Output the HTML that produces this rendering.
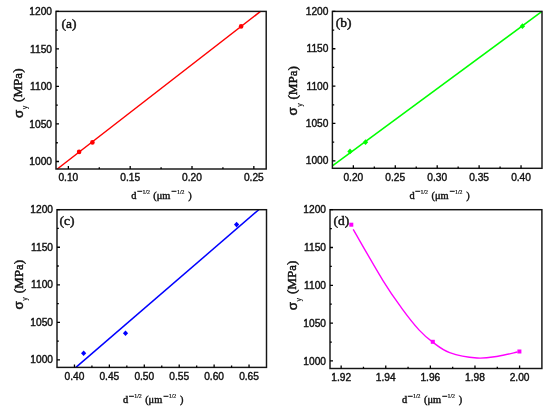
<!DOCTYPE html>
<html><head><meta charset="utf-8"><title>Hall-Petch plots</title>
<style>
html,body{margin:0;padding:0;background:#fff;}
body{width:550px;height:413px;overflow:hidden;}
svg{display:block;}
text{fill:#111;}
.tk{font-family:"Liberation Sans",Arial,sans-serif;font-size:10.2px;stroke:#111;stroke-width:0.4px;}
.pl{font-family:"Liberation Serif","Times New Roman",serif;font-size:13.5px;stroke:#111;stroke-width:0.45px;}
.yl text{font-family:"Liberation Serif","Times New Roman",serif;font-size:12.0px;stroke:#111;stroke-width:0.45px;}
.yl .sg{font-family:"Liberation Sans",Arial,sans-serif;font-size:12.11px;}
.yl .sub{font-family:"Liberation Sans",Arial,sans-serif;font-size:6.5px;stroke-width:0.1px;}
.xl text{font-family:"Liberation Serif","Times New Roman",serif;font-size:9.6px;stroke:#111;stroke-width:0.4px;}
.xl .sp{font-size:5.4px;stroke-width:0.2px;}
.xl .mn{font-size:9.0px;}
</style></head>
<body><svg width="550" height="413" viewBox="0 0 550 413">
<rect width="550" height="413" fill="#fff"/>
<g>
<line x1="57.30" y1="169.00" x2="260.5" y2="11.40" stroke="#ff0000" stroke-width="1.5"/>
<circle cx="79.1" cy="151.9" r="2.3" fill="#ff0000"/>
<circle cx="92.4" cy="142.4" r="2.3" fill="#ff0000"/>
<circle cx="241.1" cy="26.4" r="2.3" fill="#ff0000"/>
<rect x="56.00" y="11.40" width="210.20" height="157.60" fill="none" stroke="#151515" stroke-width="1.45"/>
<path d="M56.00 161.50h3 M56.00 123.97h3 M56.00 86.45h3 M56.00 48.92h3 M56.00 11.40h3 M56.00 142.73h1.8 M56.00 105.21h1.8 M56.00 67.69h1.8 M56.00 30.16h1.8 M68.36 169.00v-3 M130.19 169.00v-3 M192.01 169.00v-3 M253.84 169.00v-3 M99.28 169.00v-1.8 M161.10 169.00v-1.8 M222.92 169.00v-1.8" stroke="#000" stroke-width="1.3" fill="none"/>
<text class="tk" x="52.00" y="165.10" text-anchor="end">1000</text>
<text class="tk" x="52.00" y="127.57" text-anchor="end">1050</text>
<text class="tk" x="52.00" y="90.05" text-anchor="end">1100</text>
<text class="tk" x="52.00" y="52.52" text-anchor="end">1150</text>
<text class="tk" x="52.00" y="15.00" text-anchor="end">1200</text>
<text class="tk" x="68.36" y="181.40" text-anchor="middle">0.10</text>
<text class="tk" x="130.19" y="181.40" text-anchor="middle">0.15</text>
<text class="tk" x="192.01" y="181.40" text-anchor="middle">0.20</text>
<text class="tk" x="253.84" y="181.40" text-anchor="middle">0.25</text>
<text class="pl" x="61.5" y="28.3">(a)</text>
<g class="yl" transform="translate(22.6 118.0) rotate(-90) scale(1.09 1)"><text class="sg" x="0" y="0">σ</text><text class="sub" x="8.04" y="4.7">y</text><text class="mp" x="14.79" y="-0.2">(MPa)</text></g>
<g class="xl" transform="translate(131.3 199.0) scale(1.08 1)"><text x="0" y="0">d</text><text class="mn" x="5.01" y="-4.6">−</text><text class="sp" x="10.36" y="-5.3">1/2</text><text x="20.41" y="0">(μm</text><text class="mn" x="36.86" y="-4.6">−</text><text class="sp" x="42.30" y="-5.3">1/2</text><text x="52.66" y="0">)</text></g>
</g>
<g>
<line x1="332.40" y1="165.8" x2="542.00" y2="11.40" stroke="#00ff00" stroke-width="1.5"/>
<path d="M350.0 148.5l2.7 2.9l-2.7 2.9l-2.7 -2.9z" fill="#00ff00"/>
<path d="M365.5 139.29999999999998l2.7 2.9l-2.7 2.9l-2.7 -2.9z" fill="#00ff00"/>
<path d="M522.4 23.3l2.7 2.9l-2.7 2.9l-2.7 -2.9z" fill="#00ff00"/>
<rect x="332.40" y="11.40" width="209.60" height="156.90" fill="none" stroke="#151515" stroke-width="1.45"/>
<path d="M332.40 160.83h3 M332.40 123.47h3 M332.40 86.11h3 M332.40 48.76h3 M332.40 11.40h3 M332.40 142.15h1.8 M332.40 104.79h1.8 M332.40 67.44h1.8 M332.40 30.08h1.8 M353.36 168.30v-3 M395.28 168.30v-3 M437.20 168.30v-3 M479.12 168.30v-3 M521.04 168.30v-3 M374.32 168.30v-1.8 M416.24 168.30v-1.8 M458.16 168.30v-1.8 M500.08 168.30v-1.8" stroke="#000" stroke-width="1.3" fill="none"/>
<text class="tk" x="328.40" y="164.43" text-anchor="end">1000</text>
<text class="tk" x="328.40" y="127.07" text-anchor="end">1050</text>
<text class="tk" x="328.40" y="89.71" text-anchor="end">1100</text>
<text class="tk" x="328.40" y="52.36" text-anchor="end">1150</text>
<text class="tk" x="328.40" y="15.00" text-anchor="end">1200</text>
<text class="tk" x="353.36" y="180.70" text-anchor="middle">0.20</text>
<text class="tk" x="395.28" y="180.70" text-anchor="middle">0.25</text>
<text class="tk" x="437.20" y="180.70" text-anchor="middle">0.30</text>
<text class="tk" x="479.12" y="180.70" text-anchor="middle">0.35</text>
<text class="tk" x="521.04" y="180.70" text-anchor="middle">0.40</text>
<text class="pl" x="335.7" y="26.7">(b)</text>
<g class="yl" transform="translate(296.9 115.6) rotate(-90) scale(1.09 1)"><text class="sg" x="0" y="0">σ</text><text class="sub" x="8.04" y="4.7">y</text><text class="mp" x="14.79" y="-0.2">(MPa)</text></g>
<g class="xl" transform="translate(409.4 199.0) scale(1.08 1)"><text x="0" y="0">d</text><text class="mn" x="5.01" y="-4.6">−</text><text class="sp" x="10.36" y="-5.3">1/2</text><text x="20.41" y="0">(μm</text><text class="mn" x="36.86" y="-4.6">−</text><text class="sp" x="42.30" y="-5.3">1/2</text><text x="52.66" y="0">)</text></g>
</g>
<g>
<line x1="75.9" y1="367.40" x2="258.8" y2="209.70" stroke="#0000ff" stroke-width="1.5"/>
<path d="M83.65 350.5l2.6 2.8l-2.6 2.8l-2.6 -2.8z" fill="#0000ff"/>
<path d="M125.5 330.5l2.6 2.8l-2.6 2.8l-2.6 -2.8z" fill="#0000ff"/>
<path d="M236.6 221.79999999999998l2.6 2.8l-2.6 2.8l-2.6 -2.8z" fill="#0000ff"/>
<rect x="57.00" y="209.70" width="209.50" height="157.70" fill="none" stroke="#151515" stroke-width="1.45"/>
<path d="M57.00 359.89h3 M57.00 322.34h3 M57.00 284.80h3 M57.00 247.25h3 M57.00 209.70h3 M57.00 341.12h1.8 M57.00 303.57h1.8 M57.00 266.02h1.8 M57.00 228.47h1.8 M74.46 367.40v-3 M109.38 367.40v-3 M144.29 367.40v-3 M179.21 367.40v-3 M214.12 367.40v-3 M249.04 367.40v-3 M91.92 367.40v-1.8 M126.83 367.40v-1.8 M161.75 367.40v-1.8 M196.67 367.40v-1.8 M231.58 367.40v-1.8" stroke="#000" stroke-width="1.3" fill="none"/>
<text class="tk" x="53.00" y="363.49" text-anchor="end">1000</text>
<text class="tk" x="53.00" y="325.94" text-anchor="end">1050</text>
<text class="tk" x="53.00" y="288.40" text-anchor="end">1100</text>
<text class="tk" x="53.00" y="250.85" text-anchor="end">1150</text>
<text class="tk" x="53.00" y="213.30" text-anchor="end">1200</text>
<text class="tk" x="74.46" y="379.80" text-anchor="middle">0.40</text>
<text class="tk" x="109.38" y="379.80" text-anchor="middle">0.45</text>
<text class="tk" x="144.29" y="379.80" text-anchor="middle">0.50</text>
<text class="tk" x="179.21" y="379.80" text-anchor="middle">0.55</text>
<text class="tk" x="214.12" y="379.80" text-anchor="middle">0.60</text>
<text class="tk" x="249.04" y="379.80" text-anchor="middle">0.65</text>
<text class="pl" x="59.4" y="224.6">(c)</text>
<g class="yl" transform="translate(22.7 309.4) rotate(-90) scale(1.09 1)"><text class="sg" x="0" y="0">σ</text><text class="sub" x="8.04" y="4.7">y</text><text class="mp" x="14.79" y="-0.2">(MPa)</text></g>
<g class="xl" transform="translate(123.1 403.4) scale(1.08 1)"><text x="0" y="0">d</text><text class="mn" x="5.01" y="-4.6">−</text><text class="sp" x="10.36" y="-5.3">1/2</text><text x="20.41" y="0">(μm</text><text class="mn" x="36.86" y="-4.6">−</text><text class="sp" x="42.30" y="-5.3">1/2</text><text x="52.66" y="0">)</text></g>
</g>
<g>
<path d="M353.2 229.4 C358.22 238.02 375.20 267.95 383.3 281.1 C391.40 294.25 395.82 300.13 401.8 308.3 C407.78 316.47 414.05 324.47 419.2 330.1 C424.35 335.73 427.62 338.35 432.7 342.1 C437.78 345.85 442.32 349.95 449.7 352.6 C457.08 355.25 468.95 357.40 477 358.0 C485.05 358.60 491.25 357.20 498 356.2 C504.75 355.20 514.25 352.70 517.5 352.0" stroke="#ff00ff" stroke-width="1.4" fill="none"/>
<rect x="349.30" y="222.70" width="4.0" height="4.0" fill="#ff00ff"/>
<rect x="430.80" y="339.80" width="4.0" height="4.0" fill="#ff00ff"/>
<rect x="517.40" y="349.50" width="4.0" height="4.0" fill="#ff00ff"/>
<rect x="330.00" y="209.70" width="211.90" height="158.80" fill="none" stroke="#151515" stroke-width="1.45"/>
<path d="M330.00 360.94h3 M330.00 323.13h3 M330.00 285.32h3 M330.00 247.51h3 M330.00 209.70h3 M330.00 342.03h1.8 M330.00 304.22h1.8 M330.00 266.41h1.8 M330.00 228.60h1.8 M341.15 368.50v-3 M385.76 368.50v-3 M430.37 368.50v-3 M474.98 368.50v-3 M519.59 368.50v-3 M363.46 368.50v-1.8 M408.07 368.50v-1.8 M452.68 368.50v-1.8 M497.29 368.50v-1.8" stroke="#000" stroke-width="1.3" fill="none"/>
<text class="tk" x="326.00" y="364.54" text-anchor="end">1000</text>
<text class="tk" x="326.00" y="326.73" text-anchor="end">1050</text>
<text class="tk" x="326.00" y="288.92" text-anchor="end">1100</text>
<text class="tk" x="326.00" y="251.11" text-anchor="end">1150</text>
<text class="tk" x="326.00" y="213.30" text-anchor="end">1200</text>
<text class="tk" x="341.15" y="380.90" text-anchor="middle">1.92</text>
<text class="tk" x="385.76" y="380.90" text-anchor="middle">1.94</text>
<text class="tk" x="430.37" y="380.90" text-anchor="middle">1.96</text>
<text class="tk" x="474.98" y="380.90" text-anchor="middle">1.98</text>
<text class="tk" x="519.59" y="380.90" text-anchor="middle">2.00</text>
<text class="pl" x="333.4" y="224.6">(d)</text>
<g class="yl" transform="translate(296.6 310.2) rotate(-90) scale(1.09 1)"><text class="sg" x="0" y="0">σ</text><text class="sub" x="8.04" y="4.7">y</text><text class="mp" x="14.79" y="-0.2">(MPa)</text></g>
<g class="xl" transform="translate(401.9 403.4) scale(1.08 1)"><text x="0" y="0">d</text><text class="mn" x="5.01" y="-4.6">−</text><text class="sp" x="10.36" y="-5.3">1/2</text><text x="20.41" y="0">(μm</text><text class="mn" x="36.86" y="-4.6">−</text><text class="sp" x="42.30" y="-5.3">1/2</text><text x="52.66" y="0">)</text></g>
</g>
</svg></body></html>
